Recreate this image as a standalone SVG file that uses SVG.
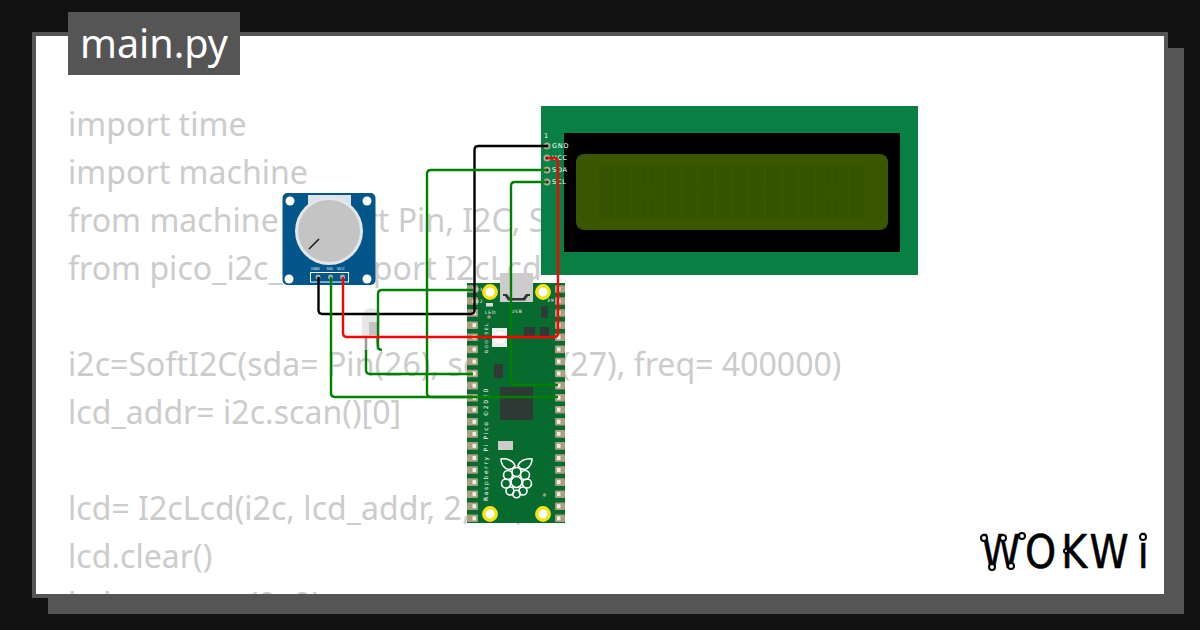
<svg xmlns="http://www.w3.org/2000/svg" width="1200" height="630" viewBox="0 0 1200 630">
<style>
.code{font-family:"Noto Sans",sans-serif;font-size:32px;letter-spacing:.04px;fill:#ccc}
.s{font-family:"DejaVu Sans",sans-serif;fill:#fff}
.w{fill:none;stroke-width:2.4;stroke-linejoin:round}
.pad{fill:#ab9f82}
.hole{fill:#f2f0e6}
.chip{fill:#2f3a36}
</style>
<defs>
<pattern id="chars" x="599" y="166" width="16.7" height="26.4" patternUnits="userSpaceOnUse"><rect width="14.9" height="25.4" fill="#355300"/></pattern>
<clipPath id="page"><rect x="36" y="36" width="1128" height="558"/></clipPath>
<g id="padL"><rect x="467" y="-3.8" width="11" height="7.6" rx="1" class="pad"/><rect x="472.500" y="-2" width="3.500" height="4" class="hole"/></g>
<g id="padR"><rect x="555" y="-3.800" width="10" height="7.600" rx="1" class="pad"/><rect x="557" y="-2" width="3.500" height="4" class="hole"/></g>
</defs>
<rect width="1200" height="630" fill="#111"/>
<rect x="48" y="48" width="1136" height="566" fill="#555"/>
<rect x="34" y="34" width="1132" height="562" fill="#fff" stroke="#555" stroke-width="4"/>
<g id="code" clip-path="url(#page)">
<text class="code" x="68" y="136">import time</text>
<text class="code" x="68" y="184">import machine</text>
<text class="code" x="68" y="232">from machine import Pin, I2C, SoftI2C</text>
<text class="code" x="68" y="280">from pico_i2c_lcd import I2cLcd</text>
<text class="code" x="68" y="376">i2c=SoftI2C(sda= Pin(26), scl= Pin(27), freq= 400000)</text>
<text class="code" x="68" y="424">lcd_addr= i2c.scan()[0]</text>
<text class="code" x="68" y="520">lcd= I2cLcd(i2c, lcd_addr, 2, 16)</text>
<text class="code" x="68" y="568">lcd.clear()</text>
<text class="code" x="68" y="616">lcd.move_to(0, 0)</text>
</g>
<g id="tab">
<rect x="68" y="12" width="172" height="63" fill="#555"/>
<text x="80" y="58" font-family="Noto Sans,sans-serif" font-size="39.500" fill="#fff">main.py</text>
</g>
<g id="lcd">
<rect x="541" y="106" width="377" height="169" fill="#087f45"/>
<rect x="564" y="133" width="336" height="119" fill="#000"/>
<rect x="576" y="154" width="312" height="76" rx="8" fill="#3a5700"/>
<rect x="599" y="166" width="266" height="52" fill="url(#chars)"/>
<g fill="#b5a98c"><circle cx="547" cy="146" r="3.5"/><circle cx="547" cy="158" r="3.5"/><circle cx="547" cy="170" r="3.5"/><circle cx="547" cy="182" r="3.5"/></g>
<g fill="#222"><circle cx="547" cy="146" r="1.6"/><circle cx="547" cy="158" r="1.6"/><circle cx="547" cy="170" r="1.6"/><circle cx="547" cy="182" r="1.6"/></g>
<g class="s" font-size="6.5" letter-spacing=".8"><text x="544" y="138">1</text><text x="552" y="148">GND</text><text x="552" y="160">VCC</text><text x="552" y="172">SDA</text><text x="552" y="184">SCL</text></g>
</g>
<g id="pico">
<rect x="467" y="283" width="98" height="240" fill="#076b30"/>
<g id="pads">
<use href="#padL" y="289"/><use href="#padL" y="301"/><use href="#padL" y="313"/><use href="#padL" y="325.2"/><use href="#padL" y="337.3"/><use href="#padL" y="349.4"/><use href="#padL" y="361.5"/><use href="#padL" y="373.5"/><use href="#padL" y="385.6"/><use href="#padL" y="397.7"/><use href="#padL" y="409.7"/><use href="#padL" y="421.8"/><use href="#padL" y="433.9"/><use href="#padL" y="445.9"/><use href="#padL" y="458"/><use href="#padL" y="470"/><use href="#padL" y="482.1"/><use href="#padL" y="494.2"/><use href="#padL" y="506.2"/><use href="#padL" y="518.3"/>
<use href="#padR" y="289"/><use href="#padR" y="301"/><use href="#padR" y="313"/><use href="#padR" y="325.2"/><use href="#padR" y="337.3"/><use href="#padR" y="349.4"/><use href="#padR" y="361.5"/><use href="#padR" y="373.5"/><use href="#padR" y="385.6"/><use href="#padR" y="397.7"/><use href="#padR" y="409.7"/><use href="#padR" y="421.8"/><use href="#padR" y="433.9"/><use href="#padR" y="445.9"/><use href="#padR" y="458"/><use href="#padR" y="470"/><use href="#padR" y="482.1"/><use href="#padR" y="494.2"/><use href="#padR" y="506.2"/><use href="#padR" y="518.3"/>
</g>
<g fill="#fff" stroke="#f5e31a" stroke-width="3.500"><circle cx="490" cy="292" r="6.200"/><circle cx="543" cy="292" r="6.200"/><circle cx="490" cy="514" r="6.200"/><circle cx="543" cy="514" r="6.200"/></g>
<rect x="500" y="273" width="33" height="29" fill="#ccc"/>
<path d="M503 294h4l3 4h13l3-4h4v2h-2l-3 4.500h-17l-3-4.500h-2z" fill="#333"/>
<rect x="486" y="303" width="7" height="3.5" fill="#ddd"/>
<circle cx="489" cy="317" r="1.8" fill="#a89a70"/>
<circle cx="544.5" cy="495" r="1.8" fill="#a89a70"/>
<rect x="492" y="328" width="15" height="19" fill="#eee"/><circle cx="499.500" cy="337.500" r="6" fill="#fff"/>
<rect x="500" y="387" width="33" height="33" class="chip"/>
<rect x="494" y="364" width="9" height="14" class="chip"/>
<rect x="524" y="327" width="11" height="9" class="chip"/>
<rect x="540" y="327" width="9" height="9" class="chip"/>
<rect x="541" y="306" width="7" height="12" class="chip"/>
<rect x="498" y="441" width="15" height="9" fill="#ccc"/>
<g class="s" font-size="4.500" letter-spacing=".8">
<text x="485" y="314">LED</text><text x="511" y="313">USB</text>
<text transform="translate(488 353) rotate(-90)" letter-spacing="1.4">BOOTSEL</text>
<text transform="translate(488 501) rotate(-90)" font-size="6" letter-spacing="1.7">Raspberry Pi Pico ©2020</text>
<text x="476" y="291">01</text><text x="476" y="303">02</text><text x="547" y="302">39</text>
</g>
<g id="logo" fill="none" stroke="#fff" stroke-width="1.6">
<circle cx="516.500" cy="472" r="4.500"/><circle cx="508" cy="475" r="4.500"/><circle cx="525" cy="475" r="4.500"/><circle cx="516.500" cy="482" r="5.500"/><circle cx="506" cy="483.500" r="4.500"/><circle cx="527" cy="483.500" r="4.500"/><circle cx="510" cy="491" r="4"/><circle cx="523" cy="491" r="4"/><circle cx="516.500" cy="494" r="3.800"/>
<path d="M515 466c-1-5-8-8-14-7 0 4 2 8 6 10 3 1 6 0 8-3zM518 466c1-5 8-8 14-7 0 4-2 8-6 10-3 1-6 0-8-3z"/>
</g>
</g>
<g id="pot">
<rect x="282.500" y="193" width="93" height="92" rx="5" fill="#03568a"/>
<g fill="#fff"><circle cx="290" cy="201" r="4.500"/><circle cx="367" cy="201" r="4.500"/><circle cx="289" cy="279" r="4.500"/><circle cx="367" cy="279" r="4.500"/></g>
<rect x="308" y="195" width="43" height="12" fill="#dde3ea"/>
<circle cx="329" cy="231" r="34" fill="#e3e6ea"/><circle cx="329" cy="231" r="31" fill="#c4c4c4"/>
<line x1="309" y1="249" x2="319" y2="239" stroke="#111" stroke-width="1.500"/>
<rect x="310.500" y="272.500" width="38" height="9.500" fill="none" stroke="#fff" stroke-width="1"/>
<g fill="#aaa"><circle cx="318" cy="277" r="2.500"/><circle cx="330.500" cy="277" r="2.500"/><circle cx="342.500" cy="277" r="2.500"/></g>
<g class="s" font-size="3.800"><text x="311" y="270">GND</text><text x="326.500" y="270">SIG</text><text x="337" y="270">VCC</text></g>
</g>
<g id="led">
<path d="M366 338v13M377 338l1 12" stroke="#999" stroke-width="2.500" fill="none"/>
<path d="M362 338v-21a9 9 0 0 1 18 0v21z" fill="#e4e4e4" opacity=".9"/>
<rect x="369" y="322" width="9" height="13" fill="#c4c4c4"/>
</g>
<g id="connectors">
<path class="w" stroke="#000" d="M318.500 277v33q0 4 4 4h148q4 0 4-4V150q0-4 4-4h69"/>
<path class="w" stroke="#008000" d="M473 290h-91q-4 0-4 4v52q0 4 4 4"/>
<path class="w" stroke="#008000" d="M366 350v20q0 4 4 4h103"/>
<path class="w" stroke="#008000" d="M331 277v116q0 4 4 4h223"/>
<path class="w" stroke="#008000" d="M547 170H431q-4 0-4 4v219q0 4 4 4h42"/>
<path class="w" stroke="#008000" d="M547 182h-32q-4 0-4 4v195q0 4 4 4h43"/>
<path class="w" stroke="#f00" d="M343 277v56q0 4 4 4h207q4 0 4-4V162q0-4-4-4h-7"/>
</g>
<g id="wokwi">
<text transform="scale(.86 1)" y="568" x="1141 1192 1234 1267 1323" font-family="DejaVu Sans,sans-serif" font-size="46" stroke="#000" stroke-width=".6" stroke-linejoin="round" fill="#000">WOKWi</text>
<g fill="#fff" stroke="#000" stroke-width="2"><circle cx="984" cy="538" r="3"/><circle cx="1003" cy="538" r="3"/><circle cx="1022" cy="536" r="3"/><circle cx="992" cy="567" r="3"/><circle cx="1011" cy="566" r="3"/><circle cx="1066" cy="551" r="2"/><circle cx="1143" cy="537" r="3"/></g>
</g>
</svg>
